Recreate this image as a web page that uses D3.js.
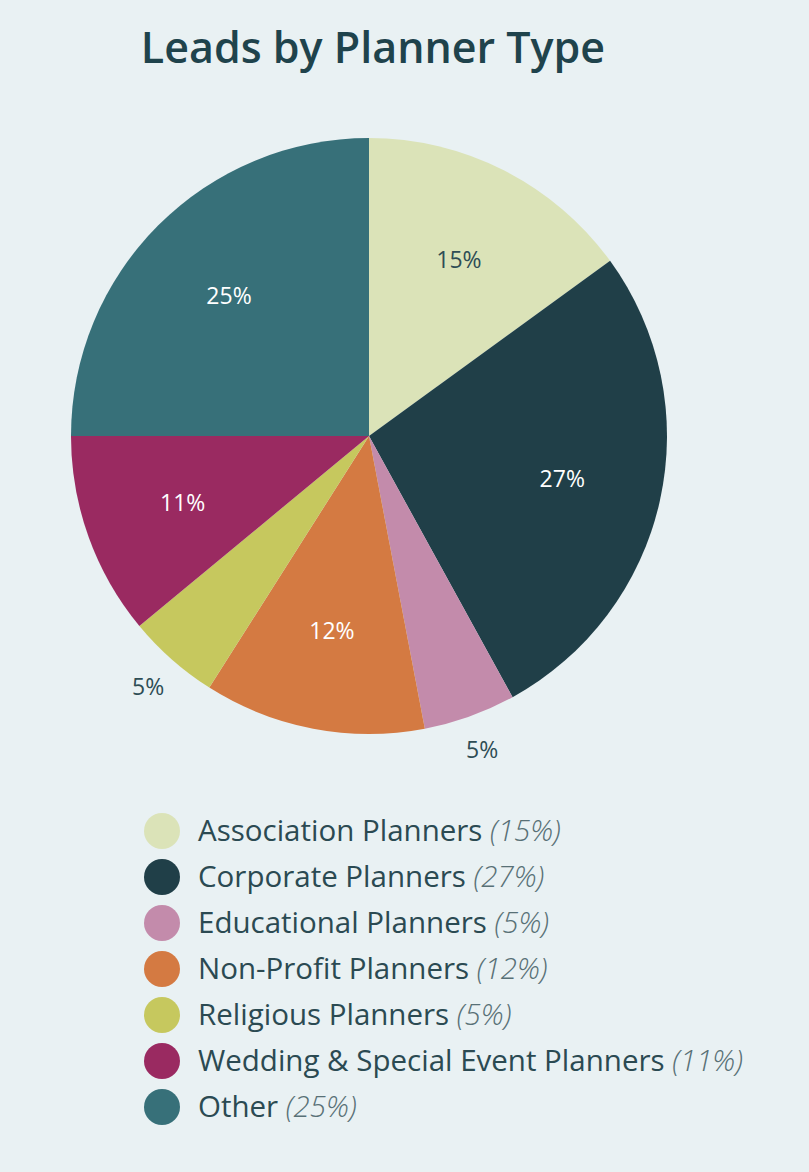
<!DOCTYPE html>
<html>
<head>
<meta charset="utf-8">
<script src="https://cdn.jsdelivr.net/npm/d3@7"></script>
<style>
  body { margin: 0; background: #e9f1f3; }
  svg { display: block; font-family: "Open Sans", sans-serif; }
</style>
</head>
<body>
<script>
// data
var categories = ["Association Planners", "Corporate Planners", "Educational Planners",
                  "Non-Profit Planners", "Religious Planners", "Wedding & Special Event Planners", "Other"];
var values = [15, 27, 5, 12, 5, 11, 25];
var colors = ["#dbe3b8", "#203f48", "#c38bab", "#d47a42", "#c6c85e", "#9a2a61", "#377079"];

var width = 809, height = 1172;
var cx = 369, cy = 436, radius = 298;

var svg = d3.select("body").append("svg")
  .attr("width", width)
  .attr("height", height);

svg.append("rect").attr("width", width).attr("height", height).attr("fill", "#e9f1f3");

// title
svg.append("text")
  .attr("x", 373).attr("y", 63)
  .attr("text-anchor", "middle")
  .attr("font-size", 43)
  .attr("font-weight", 600)
  .attr("fill", "#1f434c")
  .text("Leads by Planner Type");

var data = categories.map(function(c, i) { return {name: c, value: values[i], color: colors[i]}; });

var pie = d3.pie().sort(null).value(function(d) { return d.value; });
var arc = d3.arc().innerRadius(0).outerRadius(radius);
var labelArc = d3.arc().innerRadius(198).outerRadius(198);
var outerArc = d3.arc().innerRadius(334).outerRadius(334);

var g = svg.append("g").attr("transform", "translate(" + cx + "," + cy + ")");
var arcs = pie(data);

g.selectAll("path")
  .data(arcs)
  .enter().append("path")
  .attr("d", arc)
  .attr("fill", function(d) { return d.data.color; });

// slice labels, small ones sit outside
g.selectAll(".lbl")
  .data(arcs)
  .enter().append("text")
  .attr("class", "lbl")
  .attr("transform", function(d) {
    var p = d.data.value <= 5 ? outerArc.centroid(d) : labelArc.centroid(d);
    return "translate(" + p + ")";
  })
  .attr("text-anchor", "middle")
  .attr("dy", "0.35em")
  .attr("font-size", 23)
  .attr("fill", function(d) {
    if (d.data.value <= 5 || d.data.name == "Association Planners") return "#2e4d55";
    return "#ffffff";
  })
  .text(function(d) { return d.data.value + "%"; });

// legend
var legend = svg.append("g").attr("transform", "translate(162,831)");
var row = legend.selectAll("g")
  .data(data)
  .enter().append("g")
  .attr("transform", function(d, i) { return "translate(0," + (i * 46) + ")"; });

row.append("circle")
  .attr("r", 18)
  .attr("fill", function(d) { return d.color; });

var txt = row.append("text")
  .attr("x", 36)
  .attr("dy", "0.35em")
  .attr("font-size", 29.5)
  .attr("fill", "#2b4a52");
txt.append("tspan").text(function(d) { return d.name + " "; });
txt.append("tspan")
  .attr("font-style", "italic")
  .attr("font-weight", 300)
  .attr("fill", "#587076")
  .text(function(d) { return "(" + d.value + "%)"; });
</script>
</body>
</html>
